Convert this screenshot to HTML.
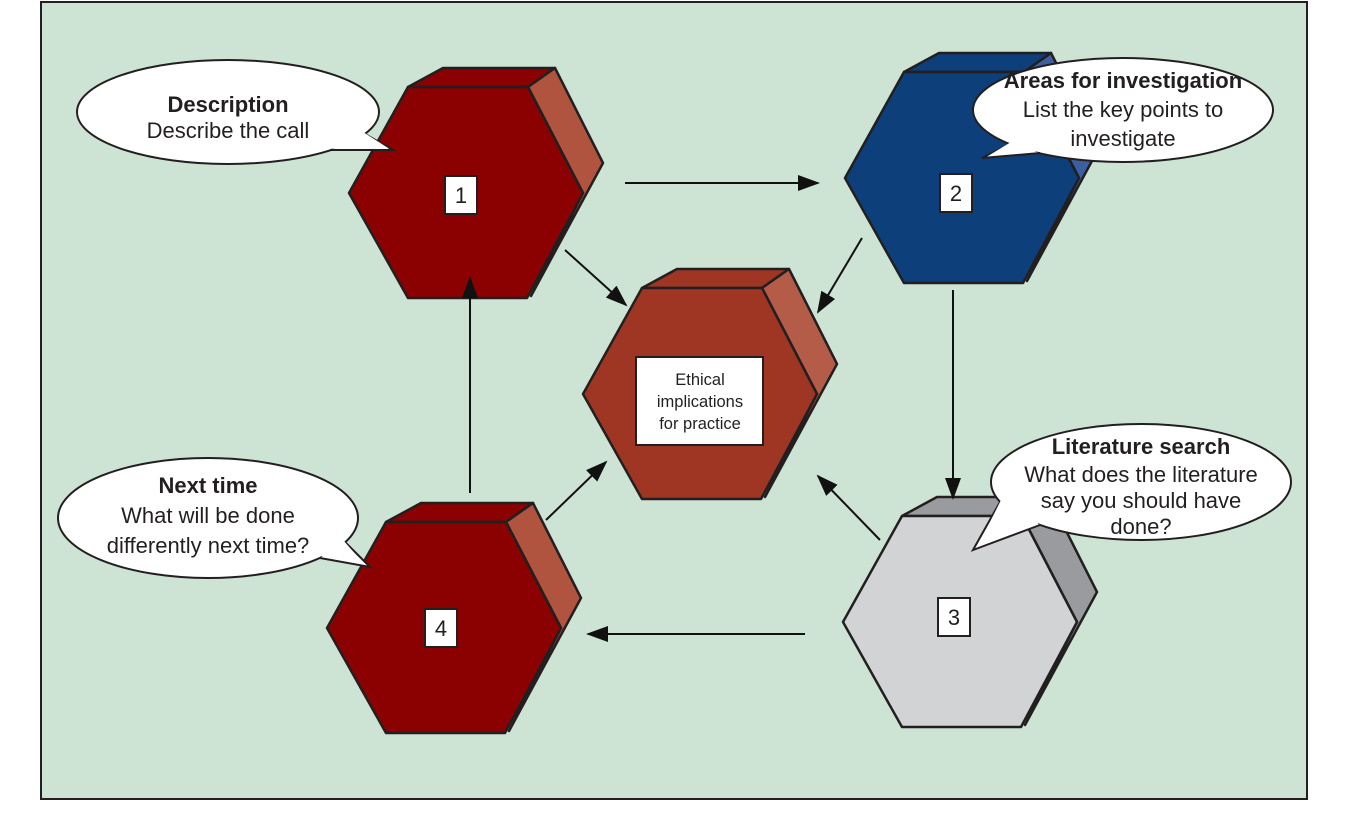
<!DOCTYPE html>
<html><head><meta charset="utf-8"><style>
html,body{margin:0;padding:0;background:#fff;}
svg{display:block;}
text{font-family:"Liberation Sans",sans-serif;fill:#231f20;}
</style></head><body>
<svg width="1348" height="834" viewBox="0 0 1348 834" xmlns="http://www.w3.org/2000/svg">
<defs>
<marker id="ah" markerWidth="22" markerHeight="16" refX="20" refY="8" orient="auto" markerUnits="userSpaceOnUse" viewBox="0 0 22 16">
<path d="M0,0 L22,8 L0,16 z" fill="#111"/>
</marker>
</defs>
<rect x="41" y="2" width="1266" height="797" fill="#cde3d3" stroke="#231f20" stroke-width="2"/>

<g stroke="#231f20" stroke-width="2.5" stroke-linejoin="round">
<polygon points="408,87 443,68 555,68 528,87" fill="#8b0000"/>
<polygon points="528,87 555,68 603,163 531,296 583,193" fill="#b0543f"/>
<polygon points="349,193 408,87 528,87 583,193 527,298 408,298" fill="#8b0000"/>
<polygon points="904,72 939,53 1051,53 1024,72" fill="#0d3f7a"/>
<polygon points="1024,72 1051,53 1099,148 1027,281 1079,178" fill="#3b5fa0"/>
<polygon points="845,178 904,72 1024,72 1079,178 1023,283 904,283" fill="#0d3f7a"/>
<polygon points="902,516 937,497 1049,497 1022,516" fill="#9a9b9e"/>
<polygon points="1022,516 1049,497 1097,592 1025,725 1077,622" fill="#9a9b9e"/>
<polygon points="843,622 902,516 1022,516 1077,622 1021,727 902,727" fill="#d2d3d5"/>
<polygon points="386,522 421,503 533,503 506,522" fill="#8b0000"/>
<polygon points="506,522 533,503 581,598 509,731 561,628" fill="#b0543f"/>
<polygon points="327,628 386,522 506,522 561,628 505,733 386,733" fill="#8b0000"/>
<polygon points="642,288 677,269 789,269 762,288" fill="#9e3623"/>
<polygon points="762,288 789,269 837,364 765,497 817,394" fill="#b55c48"/>
<polygon points="583,394 642,288 762,288 817,394 761,499 642,499" fill="#9e3623"/>
</g>

<g fill="#fff" stroke="#231f20" stroke-width="2">
<rect x="445" y="176" width="32" height="38"/>
<rect x="940" y="174" width="32" height="38"/>
<rect x="938" y="598" width="32" height="38"/>
<rect x="425" y="609" width="32" height="38"/>
<rect x="636" y="357" width="127" height="88"/>
</g>
<g font-size="22" text-anchor="middle">
<text x="461" y="203">1</text>
<text x="956" y="201">2</text>
<text x="954" y="625">3</text>
<text x="441" y="636">4</text>
</g>
<g font-size="16.5" text-anchor="middle">
<text x="700" y="385">Ethical</text>
<text x="700" y="407">implications</text>
<text x="700" y="429">for practice</text>
</g>

<g stroke="#111" stroke-width="2" fill="none" marker-end="url(#ah)">
<line x1="625" y1="183" x2="818" y2="183"/>
<line x1="953" y1="290" x2="953" y2="498"/>
<line x1="805" y1="634" x2="588" y2="634"/>
<line x1="470" y1="493" x2="470" y2="278"/>
<line x1="565" y1="250" x2="626" y2="305"/>
<line x1="862" y1="238" x2="818" y2="312"/>
<line x1="546" y1="520" x2="606" y2="462"/>
<line x1="880" y1="540" x2="818" y2="476"/>
</g>

<!-- bubbles -->
<g fill="#fff" stroke="#231f20" stroke-width="2" stroke-linejoin="miter">
<ellipse cx="228" cy="112" rx="151" ry="52"/>
<polyline points="365,134 393,150 330,150"/>
<ellipse cx="1123" cy="110" rx="150" ry="52"/>
<polyline points="1010,144 982,158 1040,153"/>
<ellipse cx="1141" cy="482" rx="150" ry="58"/>
<polyline points="1000,502 973,550 1040,525"/>
<ellipse cx="208" cy="518" rx="150" ry="60"/>
<polyline points="345,542 370,567 320,558"/>
</g>
<g fill="#fff">
<polygon points="363,132 388,148 331,148 328,142 350,128"/>
<polygon points="1011,142 988,156 1039,151 1040,146 1015,140"/>
<polygon points="1001,500 978,546 1039,523 1038,515 1005,498"/>
<polygon points="343,540 364,564 321,556 322,550 340,538"/>
</g>
<g font-size="22" text-anchor="middle">
<text x="228" y="112" font-weight="bold">Description</text>
<text x="228" y="138">Describe the call</text>
<text x="1123" y="88" font-weight="bold">Areas for investigation</text>
<text x="1123" y="117">List the key points to</text>
<text x="1123" y="146">investigate</text>
<text x="1141" y="454" font-weight="bold">Literature search</text>
<text x="1141" y="482">What does the literature</text>
<text x="1141" y="508">say you should have</text>
<text x="1141" y="534">done?</text>
<text x="208" y="493" font-weight="bold">Next time</text>
<text x="208" y="523">What will be done</text>
<text x="208" y="553">differently next time?</text>
</g>
</svg>
</body></html>
